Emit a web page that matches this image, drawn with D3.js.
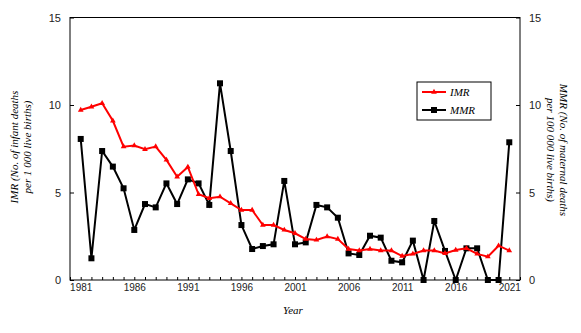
<!DOCTYPE html>
<html>
<head>
<meta charset="utf-8">
<script src="https://cdn.jsdelivr.net/npm/d3@7"></script>
<style>
  body { margin: 0; background: #fff; }
  svg { display: block; }
</style>
</head>
<body>
<div id="chart"></div>

<script type="text/javascript">
// data
var years = d3.range(1981, 2022);
var imr = [9.71, 9.9, 10.1, 9.1, 7.62, 7.68, 7.47, 7.62, 6.86, 5.9,
           6.46, 4.9, 4.67, 4.76, 4.38, 4.0, 4.0, 3.14, 3.14, 2.86,
           2.67, 2.34, 2.29, 2.48, 2.34, 1.77, 1.68, 1.77, 1.68, 1.68,
           1.37, 1.49, 1.68, 1.68, 1.52, 1.71, 1.81, 1.49, 1.33, 1.96, 1.68];
var mmr = [8.06, 1.24, 7.37, 6.48, 5.24, 2.86, 4.34, 4.15, 5.52, 4.34,
           5.75, 5.52, 4.29, 11.24, 7.37, 3.14, 1.77, 1.94, 2.04, 5.66,
           2.04, 2.15, 4.29, 4.15, 3.56, 1.52, 1.43, 2.53, 2.42, 1.10,
           1.01, 2.25, 0, 3.37, 1.66, 0, 1.81, 1.81, 0, 0, 7.87];
var yTicks = [0, 5, 10, 15];
var labelYears = [1981, 1986, 1991, 1996, 2001, 2006, 2011, 2016, 2021];

var svg = d3.select("#chart").append("svg")
    .attr("width", 581)
    .attr("height", 333);

var x = d3.scaleLinear().domain([1980, 2022]).range([70, 520]);
var y = d3.scaleLinear().domain([0, 15]).range([280, 17.5]);

// Axes
var xAxis = d3.axisBottom(x)
    .tickValues(d3.range(1980, 2023))
    .tickSize(-3)
    .tickPadding(4)
    .tickFormat(function (d) { return labelYears.indexOf(d) >= 0 ? d : ""; });

svg.append("g")
    .attr("transform", "translate(0,280)")
    .call(xAxis)
    .call(function (g) {
      g.select(".domain").remove();
      g.selectAll("text")
        .style("font-family", "Liberation Sans, Arial, sans-serif")
        .style("font-size", "10px")
        .attr("fill", "#222");
    });

var leftAxis = d3.axisLeft(y).tickValues(yTicks).tickSize(-4).tickPadding(9);
svg.append("g")
    .attr("transform", "translate(70,0)")
    .call(leftAxis)
    .call(function (g) {
      g.select(".domain").remove();
      g.selectAll("text")
        .style("font-family", "Liberation Sans, Arial, sans-serif")
        .style("font-size", "11px")
        .attr("fill", "#222");
    });

var rightAxis = d3.axisRight(y).tickValues(yTicks).tickSize(-4).tickPadding(9);
svg.append("g")
    .attr("transform", "translate(520,0)")
    .call(rightAxis)
    .call(function (g) {
      g.select(".domain").remove();
      g.selectAll("text")
        .style("font-family", "Liberation Sans, Arial, sans-serif")
        .style("font-size", "11px")
        .attr("fill", "#222");
    });

// plot frame
svg.append("rect")
    .attr("x", 70)
    .attr("y", 17.5)
    .attr("width", 450)
    .attr("height", 262.5)
    .attr("fill", "none")
    .attr("stroke", "#000")
    .attr("stroke-width", 1);

// Lines
var line = d3.line()
    .x(function (d) { return x(d[0]); })
    .y(function (d) { return y(d[1]); });

var imrData = years.map(function (yr, i) { return [yr, imr[i]]; });
var mmrData = years.map(function (yr, i) { return [yr, mmr[i]]; });

svg.append("path")
    .datum(mmrData)
    .attr("d", line)
    .attr("fill", "none")
    .attr("stroke", "#000")
    .attr("stroke-width", 2);

svg.selectAll("rect.mmr")
    .data(mmrData)
    .enter()
    .append("rect")
      .attr("class", "mmr")
      .attr("x", function (d) { return x(d[0]) - 3; })
      .attr("y", function (d) { return y(d[1]) - 3; })
      .attr("width", 6)
      .attr("height", 6)
      .attr("fill", "#000");

svg.append("path")
    .datum(imrData)
    .attr("d", line)
    .attr("fill", "none")
    .attr("stroke", "#ff0000")
    .attr("stroke-width", 2);

var tri = d3.symbol().type(d3.symbolTriangle).size(14);
svg.selectAll("path.imr")
    .data(imrData)
    .enter()
    .append("path")
      .attr("class", "imr")
      .attr("d", tri)
      .attr("transform", function (d) { return "translate(" + x(d[0]) + "," + y(d[1]) + ")"; })
      .attr("fill", "#ff0000");

// Axis titles
var serif = "Liberation Serif, Times New Roman, serif";

var leftTitle = svg.append("text")
    .attr("transform", "translate(18,147) rotate(-90)")
    .attr("text-anchor", "middle")
    .style("font-family", serif)
    .style("font-style", "italic")
    .style("font-size", "11px");
leftTitle.append("tspan").attr("x", 0).attr("y", 0).text("IMR (No. of infant deaths");
leftTitle.append("tspan").attr("x", 0).attr("y", 13).text("per 1 000 live births)");

var rightTitle = svg.append("text")
    .attr("transform", "translate(560,150) rotate(90)")
    .attr("text-anchor", "middle")
    .style("font-family", serif)
    .style("font-style", "italic")
    .style("font-size", "11px");
rightTitle.append("tspan").attr("x", 0).attr("y", 0).text("MMR (No. of maternal deaths");
rightTitle.append("tspan").attr("x", 0).attr("y", 13).text("per 100 000 live births)");

svg.append("text")
    .attr("x", 293)
    .attr("y", 314)
    .attr("text-anchor", "middle")
    .style("font-family", serif)
    .style("font-style", "italic")
    .style("font-size", "11px")
    .text("Year");

// Legend
var legend = svg.append("g").attr("transform", "translate(417,82)");
legend.append("rect")
    .attr("width", 74)
    .attr("height", 38)
    .attr("fill", "#fff")
    .attr("stroke", "#000");

var legendItems = [
  { name: "IMR", color: "#ff0000", shape: "tri" },
  { name: "MMR", color: "#000", shape: "sq" }
];
legendItems.forEach(function (it, i) {
  var ly = 10 + i * 18;
  legend.append("line")
      .attr("x1", 5).attr("x2", 29)
      .attr("y1", ly).attr("y2", ly)
      .attr("stroke", it.color)
      .attr("stroke-width", 2);
  if (it.shape === "tri") {
    legend.append("path")
        .attr("d", tri)
        .attr("transform", "translate(17," + ly + ")")
        .attr("fill", it.color);
  } else {
    legend.append("rect")
        .attr("x", 14).attr("y", ly - 3)
        .attr("width", 6).attr("height", 6)
        .attr("fill", it.color);
  }
  legend.append("text")
      .attr("x", 33)
      .attr("y", ly + 4)
      .style("font-family", serif)
      .style("font-style", "italic")
      .style("font-size", "11px")
      .text(it.name);
});
</script>
</body>
</html>
